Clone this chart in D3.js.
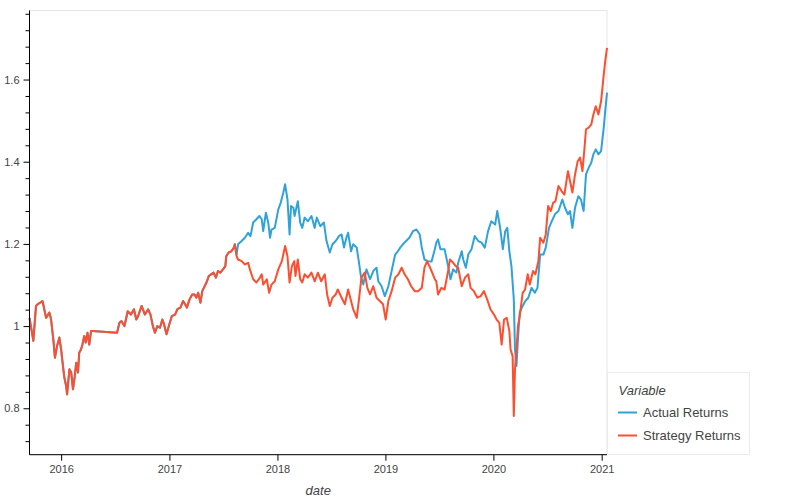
<!DOCTYPE html>
<html><head><meta charset="utf-8">
<script src="https://cdn.jsdelivr.net/npm/d3@7"></script>
<style>body{margin:0;background:#fff;}svg{display:block;font-family:"Liberation Sans",Arial,Helvetica,sans-serif;}</style>
</head><body><svg id="c" width="800" height="500"></svg>
<script>
const seriesNames = ["Actual Returns", "Strategy Returns"];
const seriesColors = ["#30a2da", "#fc4f30"];
const yTickValues = [0.8, 1, 1.2, 1.4, 1.6];
const xTickYears = ["2016","2017","2018","2019","2020","2021"];

// common part (both series identical)
const sharedDates = ["2015-09-16","2015-09-29","2015-10-08","2015-10-13","2015-10-22","2015-10-30","2015-11-11","2015-11-22","2015-11-28","2015-12-06","2015-12-11","2015-12-18","2015-12-26","2016-01-01","2016-01-07","2016-01-12","2016-01-18","2016-01-21","2016-01-29","2016-02-04","2016-02-10","2016-02-16","2016-02-21","2016-02-27","2016-03-02","2016-03-08","2016-03-13","2016-03-19","2016-03-24","2016-03-30","2016-04-05","2016-04-11","2016-04-16","2016-07-08","2016-07-16","2016-07-23","2016-08-02","2016-08-13","2016-08-24","2016-09-03","2016-09-11","2016-09-17","2016-09-29","2016-10-10","2016-10-21","2016-10-29","2016-11-06","2016-11-13","2016-11-21","2016-11-30","2016-12-08","2016-12-14","2016-12-22","2016-12-30","2017-01-09","2017-01-20","2017-01-28","2017-02-07","2017-02-16","2017-02-23","2017-03-01","2017-03-10","2017-03-19","2017-03-27","2017-04-02","2017-04-08","2017-04-16","2017-04-22","2017-04-30","2017-05-08","2017-05-14","2017-05-22","2017-05-30","2017-06-07","2017-06-14","2017-06-22","2017-07-01","2017-07-09","2017-07-12","2017-07-20","2017-07-29","2017-08-07","2017-08-10"];
const sharedValues = [1.020,0.964,1.049,1.053,1.057,1.061,1.020,1.033,1.016,0.964,0.923,0.951,0.972,0.943,0.903,0.874,0.854,0.834,0.895,0.887,0.846,0.878,0.911,0.887,0.935,0.943,0.955,0.976,0.960,0.984,0.955,0.988,0.988,0.984,1.008,1.012,1.000,1.036,1.028,1.041,1.016,1.024,1.049,1.028,1.041,1.028,1.000,0.984,1.000,0.996,1.016,1.004,0.980,1.000,1.024,1.028,1.041,1.045,1.061,1.053,1.045,1.065,1.077,1.077,1.069,1.081,1.057,1.085,1.097,1.109,1.122,1.126,1.130,1.118,1.134,1.130,1.138,1.146,1.170,1.179,1.182,1.191,1.199];

const actualDates = ["2017-08-16","2017-08-21","2017-09-02","2017-09-13","2017-09-24","2017-10-02","2017-10-11","2017-10-22","2017-11-01","2017-11-09","2017-11-14","2017-11-23","2017-12-01","2017-12-07","2017-12-12","2017-12-23","2018-01-04","2018-01-12","2018-01-21","2018-01-27","2018-02-04","2018-02-11","2018-02-16","2018-02-24","2018-02-28","2018-03-11","2018-03-19","2018-03-26","2018-04-03","2018-04-14","2018-04-26","2018-05-07","2018-05-14","2018-05-26","2018-06-07","2018-06-16","2018-06-27","2018-07-06","2018-07-17","2018-07-28","2018-08-06","2018-08-14","2018-08-22","2018-08-28","2018-09-07","2018-09-14","2018-09-26","2018-10-03","2018-10-10","2018-10-18","2018-10-29","2018-11-10","2018-11-21","2018-12-02","2018-12-08","2018-12-19","2018-12-30","2019-01-11","2019-01-22","2019-02-03","2019-02-12","2019-02-20","2019-03-01","2019-03-12","2019-03-23","2019-04-04","2019-04-16","2019-04-27","2019-05-04","2019-05-13","2019-05-24","2019-06-06","2019-06-17","2019-06-22","2019-06-28","2019-07-06","2019-07-20","2019-08-01","2019-08-09","2019-08-18","2019-08-29","2019-09-04","2019-09-16","2019-09-21","2019-09-30","2019-10-08","2019-10-19","2019-10-30","2019-11-11","2019-11-22","2019-12-03","2019-12-14","2019-12-25","2020-01-07","2020-01-14","2020-01-23","2020-02-02","2020-02-10","2020-02-17","2020-02-24","2020-03-02","2020-03-10","2020-03-14","2020-03-19","2020-03-24","2020-03-30","2020-04-09","2020-04-17","2020-04-28","2020-05-09","2020-05-20","2020-05-29","2020-06-07","2020-06-18","2020-06-26","2020-07-07","2020-07-16","2020-07-27","2020-08-08","2020-08-21","2020-08-30","2020-09-09","2020-09-16","2020-09-24","2020-10-03","2020-10-14","2020-10-23","2020-11-01","2020-11-09","2020-11-18","2020-11-27","2020-12-04","2020-12-12","2020-12-21","2020-12-30","2021-01-08","2021-01-13","2021-01-19"];
const actualValues = [1.174,1.199,1.207,1.215,1.227,1.219,1.252,1.260,1.268,1.260,1.231,1.276,1.252,1.215,1.235,1.239,1.284,1.300,1.325,1.345,1.308,1.223,1.292,1.288,1.268,1.304,1.252,1.239,1.264,1.255,1.268,1.239,1.264,1.243,1.252,1.207,1.179,1.199,1.207,1.219,1.223,1.191,1.215,1.227,1.182,1.199,1.191,1.158,1.122,1.101,1.138,1.114,1.134,1.142,1.109,1.097,1.073,1.097,1.134,1.174,1.182,1.191,1.199,1.207,1.215,1.231,1.235,1.223,1.191,1.162,1.158,1.157,1.187,1.203,1.211,1.187,1.187,1.146,1.114,1.138,1.130,1.154,1.182,1.162,1.142,1.174,1.187,1.219,1.207,1.203,1.191,1.231,1.255,1.247,1.280,1.243,1.187,1.231,1.239,1.182,1.146,1.065,0.943,0.903,0.968,1.033,1.049,1.060,1.069,1.093,1.081,1.093,1.174,1.174,1.191,1.239,1.255,1.272,1.280,1.308,1.288,1.272,1.280,1.239,1.288,1.316,1.308,1.280,1.369,1.385,1.398,1.418,1.430,1.418,1.426,1.483,1.523,1.568];

const strategyDates = ["2017-08-16","2017-08-21","2017-09-02","2017-09-13","2017-09-24","2017-09-30","2017-10-11","2017-10-22","2017-11-03","2017-11-09","2017-11-14","2017-11-26","2017-12-04","2017-12-12","2017-12-23","2018-01-04","2018-01-16","2018-01-27","2018-02-04","2018-02-11","2018-02-19","2018-02-27","2018-03-03","2018-03-11","2018-03-19","2018-03-26","2018-04-03","2018-04-14","2018-04-26","2018-05-07","2018-05-18","2018-05-29","2018-06-10","2018-06-18","2018-06-27","2018-07-06","2018-07-17","2018-07-24","2018-08-06","2018-08-17","2018-08-28","2018-09-07","2018-09-14","2018-09-26","2018-10-03","2018-10-12","2018-10-23","2018-11-01","2018-11-10","2018-11-21","2018-12-02","2018-12-13","2018-12-24","2019-01-02","2019-01-11","2019-01-22","2019-02-03","2019-02-14","2019-02-25","2019-03-07","2019-03-18","2019-03-29","2019-04-10","2019-04-21","2019-05-04","2019-05-13","2019-05-22","2019-06-06","2019-06-17","2019-06-22","2019-06-28","2019-07-09","2019-07-20","2019-08-01","2019-08-07","2019-08-18","2019-08-27","2019-09-04","2019-09-16","2019-09-27","2019-10-08","2019-10-16","2019-10-27","2019-11-08","2019-11-19","2019-11-30","2019-12-11","2019-12-22","2020-01-03","2020-01-12","2020-01-21","2020-01-29","2020-02-06","2020-02-15","2020-02-24","2020-02-28","2020-03-06","2020-03-10","2020-03-14","2020-03-19","2020-03-24","2020-03-30","2020-04-09","2020-04-17","2020-04-26","2020-05-03","2020-05-14","2020-05-22","2020-06-01","2020-06-07","2020-06-18","2020-06-26","2020-07-04","2020-07-13","2020-07-21","2020-07-29","2020-08-08","2020-08-19","2020-08-28","2020-09-09","2020-09-16","2020-09-24","2020-10-03","2020-10-12","2020-10-20","2020-10-28","2020-11-04","2020-11-09","2020-11-18","2020-11-27","2020-12-04","2020-12-12","2020-12-21","2020-12-30","2021-01-08","2021-01-13","2021-01-19"];
const strategyValues = [1.170,1.162,1.158,1.150,1.154,1.138,1.114,1.106,1.118,1.126,1.101,1.114,1.081,1.101,1.109,1.138,1.158,1.195,1.170,1.106,1.146,1.158,1.122,1.162,1.114,1.106,1.126,1.118,1.130,1.109,1.130,1.109,1.126,1.077,1.049,1.069,1.077,1.089,1.069,1.053,1.089,1.061,1.041,1.020,1.061,1.118,1.130,1.093,1.077,1.097,1.069,1.061,1.053,1.016,1.061,1.085,1.118,1.126,1.142,1.126,1.114,1.097,1.085,1.085,1.093,1.142,1.158,1.134,1.114,1.109,1.077,1.093,1.089,1.134,1.162,1.154,1.146,1.142,1.097,1.118,1.126,1.093,1.085,1.069,1.073,1.085,1.065,1.041,1.028,1.016,1.008,0.955,1.016,1.020,0.988,0.943,0.927,0.781,0.895,0.943,1.000,1.024,1.081,1.089,1.126,1.101,1.134,1.126,1.158,1.215,1.203,1.223,1.292,1.280,1.300,1.304,1.341,1.328,1.320,1.377,1.353,1.325,1.369,1.401,1.410,1.377,1.434,1.479,1.483,1.491,1.515,1.535,1.515,1.547,1.612,1.645,1.677];

const parse = d3.timeParse("%Y-%m-%d");
function build(dates, values) { return dates.map((d, i) => ({date: parse(d), value: values[i]})); }
const shared = build(sharedDates, sharedValues);
const series = [
  shared.concat(build(actualDates, actualValues)),
  shared.concat(build(strategyDates, strategyValues))
];

const svg = d3.select("#c");
const L = 29.5, R = 607, T = 10.5, B = 454.7;
const allDates = series.flat().map(d => d.date);
const x = d3.scaleTime().domain(d3.extent(allDates)).range([L, R]);
const y = d3.scaleLinear().domain([0.687, 1.768]).range([B, T]);

// frame
svg.append("rect").attr("x", L).attr("y", T).attr("width", R - L).attr("height", B - T)
  .attr("fill", "none").attr("stroke", "#e5e5e5").attr("stroke-width", 1);

const line = d3.line().x(d => x(d.date)).y(d => y(d.value));
series.forEach((s, i) => {
  svg.append("path").datum(s).attr("d", line).attr("fill", "none")
    .attr("stroke", seriesColors[i]).attr("stroke-width", 2).attr("stroke-linejoin", "round");
});

// y axis
const gy = svg.append("g").attr("transform", `translate(${L},0)`);
const minor = d3.range(0.72, 1.7601, 0.04).filter(v => !yTickValues.some(t => Math.abs(t - v) < 1e-6));
gy.call(d3.axisLeft(y).tickValues(minor).tickSize(4).tickFormat(""));
gy.select(".domain").remove();
const gy2 = svg.append("g").attr("transform", `translate(${L},0)`)
  .call(d3.axisLeft(y).tickValues(yTickValues).tickSize(6).tickPadding(4).tickFormat(d => d3.format("")(d)));
gy2.select(".domain").attr("d", `M0,${B}V${T}`);
[gy, gy2].forEach(g => g.selectAll("line,path").attr("stroke", "#000"));
gy2.selectAll("text").attr("font-size", 11).attr("fill", "#444").attr("font-family", "Liberation Sans, Arial, sans-serif");

// x axis
const xt = xTickYears.map(s => d3.timeParse("%Y")(s));
const gx = svg.append("g").attr("transform", `translate(0,${B})`)
  .call(d3.axisBottom(x).tickValues(xt).tickSize(6).tickPadding(5).tickFormat(d3.timeFormat("%Y")));
gx.select(".domain").attr("d", `M${L},0H${R}`);
gx.selectAll("line,path").attr("stroke", "#000");
gx.selectAll("text").attr("font-size", 11).attr("fill", "#444").attr("font-family", "Liberation Sans, Arial, sans-serif");

svg.append("text").attr("x", (L + R) / 2).attr("y", 495).attr("text-anchor", "middle")
  .attr("font-size", 13).attr("font-style", "italic").attr("fill", "#444").text("date");

// legend
const lg = svg.append("g");
lg.append("rect").attr("x", 607.5).attr("y", 372.5).attr("width", 142).attr("height", 82)
  .attr("fill", "#fff").attr("stroke", "#ebebeb");
lg.append("text").attr("x", 618.5).attr("y", 395).attr("font-size", 13).attr("font-style", "italic")
  .attr("fill", "#444").text("Variable");
seriesNames.forEach((n, i) => {
  const cy = 412.5 + i * 23;
  lg.append("line").attr("x1", 618).attr("x2", 637).attr("y1", cy).attr("y2", cy)
    .attr("stroke", seriesColors[i]).attr("stroke-width", 2);
  lg.append("text").attr("x", 643).attr("y", cy + 4.5).attr("font-size", 13).attr("fill", "#444").text(n);
});
</script></body></html>
